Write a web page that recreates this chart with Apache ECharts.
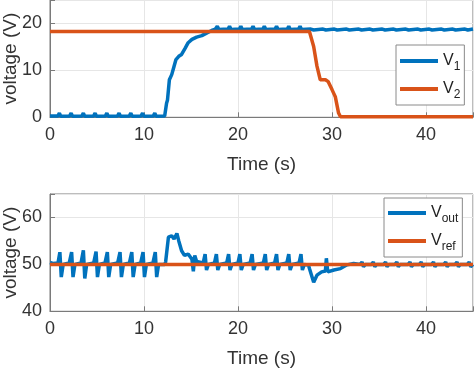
<!DOCTYPE html>
<html>
<head>
<meta charset="utf-8">
<script src="https://cdn.jsdelivr.net/npm/echarts@6/dist/echarts.min.js"></script>
<style>html,body{margin:0;padding:0;background:#fff}#c{width:474px;height:368px}</style>
</head>
<body>
<div id="c"></div>
<script>
// ---- data (time s, voltage V) ----
const v1Data = [[0,0.3],[0.85,0.3],[1.0,0.9],[1.15,0.2],[2.1,0.3],[2.25,0.9],[2.4,0.2],[3.4,0.3],[3.55,0.9],[3.7,0.2],[4.65,0.3],[4.8,0.9],[4.95,0.2],[5.9,0.3],[6.05,0.9],[6.2,0.2],[7.2,0.3],[7.35,0.9],[7.5,0.2],[8.45,0.3],[8.6,0.9],[8.75,0.2],[9.7,0.3],[9.85,0.9],[10.0,0.2],[11.0,0.3],[11.15,0.9],[11.3,0.2],[12.2,0.3],
[12.3,0.5],[12.4,3],[12.5,3.7],[12.7,8],[12.95,9.1],[13.2,10.9],[13.4,12.3],[13.7,13],[14.0,13.4],[14.4,14.8],[14.7,15.9],[15.1,16.6],[15.6,17.1],[16.15,17.4],[16.7,18],[17.2,18.5],[17.6,18.8],
[17.8,19.4],[17.95,18.7],[18.95,18.8],[19.1,19.4],[19.25,18.7],[20.15,18.8],[20.3,19.4],[20.45,18.7],[21.45,18.8],[21.6,19.4],[21.75,18.7],[22.65,18.8],[22.8,19.4],[22.95,18.7],[23.95,18.8],[24.1,19.4],[24.25,18.7],[25.25,18.8],[25.4,19.4],[25.55,18.7],[26.45,18.8],[26.6,19.4],[26.75,18.7],[27.75,18.8],[27.9,19.1],[28.05,18.6],[29.05,18.8],[29.2,19.1],[29.35,18.6],[30.25,18.8],[30.4,19.1],[30.55,18.6],[31.55,18.8],[31.7,19.1],[31.85,18.6],[32.85,18.8],[33.0,19.1],[33.15,18.6],[34.05,18.8],[34.2,19.1],[34.35,18.6],[35.35,18.8],[35.5,19.1],[35.65,18.6],[36.55,18.8],[36.7,19.1],[36.85,18.6],[37.85,18.8],[38.0,19.1],[38.15,18.6],[39.15,18.8],[39.3,19.1],[39.45,18.6],[40.35,18.8],[40.5,19.1],[40.65,18.6],[41.65,18.8],[41.8,19.1],[41.95,18.6],[42.85,18.8],[43.0,19.1],[43.15,18.6],[44.15,18.8],[44.3,19.1],[44.45,18.6],[45,18.8]];

const v2Data = [[0,18.3],[27.6,18.3],[27.7,18.2],[28.05,15.1],[28.4,10.9],[28.75,8.0],[29.3,8.0],[29.6,7.6],[30.0,5.9],[30.35,4.4],[30.7,0.9],[30.9,0.1],[45,0.1]];

const voutData = [[0,50.4],[0.3,50.2],[0.85,50.3],[1.05,52.6],[1.2,47.3],[1.4,50.0],[2.05,50.3],[2.3,52.6],[2.45,47.3],[2.65,50.0],[3.3,50.3],[3.55,53.0],[3.7,47.0],[3.9,50.0],[4.65,50.3],[4.9,52.7],[5.05,47.3],[5.25,50.0],[5.85,50.3],[6.1,52.6],[6.25,47.3],[6.45,50.0],[7.2,50.3],[7.45,52.6],[7.6,47.3],[7.8,50.0],[8.45,50.3],[8.7,52.6],[8.85,47.3],[9.05,50.0],[9.65,50.3],[9.9,52.6],[10.05,47.3],[10.25,50.0],[10.95,50.3],[11.2,52.6],[11.35,47.3],[11.55,50.0],[12.2,50.0],
[12.3,50.5],[12.6,55.8],[12.95,56.1],[13.2,55.4],[13.5,56.6],[13.7,55],[14.0,52.9],[14.3,51.9],[14.7,52.2],[15.1,51.1],[15.25,48.5],[15.4,51.9],[15.6,50.6],
[16.3,50.3],[16.5,52.2],[16.65,48.8],[16.85,50.0],[17.5,50.3],[17.7,52.2],[17.85,48.8],[18.05,50.0],[18.8,50.3],[19.0,52.2],[19.15,48.8],[19.35,50.0],[20.0,50.3],[20.2,52.2],[20.35,48.8],[20.55,50.0],[21.3,50.3],[21.5,52.2],[21.65,48.8],[21.85,50.0],[22.7,50.3],[22.9,52.2],[23.05,48.8],[23.25,50.0],[23.9,50.3],[24.1,52.2],[24.25,48.8],[24.45,50.0],[25.2,50.3],[25.4,52.2],[25.55,48.8],[25.75,50.0],[26.5,50.3],[26.7,52.2],[26.85,48.8],[27.05,50.0],
[27.5,49.8],[27.6,49.1],[28.05,46.2],[28.4,47.7],[28.9,48.4],[29.3,48.6],[29.4,51.3],[29.55,48.4],[30.2,48.8],[30.9,49.1],[31.6,49.9],[32.3,50.2],
[33.0,50.0],[33.2,50.5],[33.35,49.5],[33.55,50.0],[34.2,50.0],[34.4,50.5],[34.55,49.5],[34.75,50.0],[35.5,50.0],[35.7,50.5],[35.85,49.5],[36.05,50.0],[36.7,50.0],[36.9,50.5],[37.05,49.5],[37.25,50.0],[38.1,50.0],[38.3,50.5],[38.45,49.5],[38.65,50.0],[39.3,50.0],[39.5,50.5],[39.65,49.5],[39.85,50.0],[40.6,50.0],[40.8,50.5],[40.95,49.5],[41.15,50.0],[41.9,50.0],[42.1,50.5],[42.25,49.5],[42.45,50.0],[43.1,50.0],[43.3,50.5],[43.45,49.5],[43.65,50.0],[44.4,50.0],[44.6,50.5],[44.75,49.5],[45,50.0]];

const vrefData = [[0,50],[45,50]];

const blue = '#0072BD', orange = '#D95319';
const FONT = 'Liberation Sans';
const axisCol = '#7a7a7a', txtCol = '#333';

function xAxis(gi){
  return {type:'value', gridIndex:gi, min:0, max:45, interval:10,
    name:'Time (s)', nameLocation:'middle', nameGap:38,
    nameTextStyle:{fontFamily:FONT, fontSize:19, color:txtCol},
    axisLine:{lineStyle:{color:axisCol, width:1}},
    axisTick:{inside:true, length:5, lineStyle:{color:axisCol}},
    axisLabel:{fontFamily:FONT, fontSize:18, color:txtCol, margin:9,
      formatter:v=> v%10===0 ? String(v) : ''},
    splitLine:{show:true, lineStyle:{color:'#e6e6e6', width:1}}};
}
function yAxis(gi,mn,mx){
  return {type:'value', gridIndex:gi, min:mn, max:mx, interval:10,
    name:'voltage (V)', nameLocation:'middle', nameGap:30, nameMoveOverlap:false,
    nameTextStyle:{fontFamily:FONT, fontSize:19, color:txtCol},
    axisLine:{show:true, lineStyle:{color:axisCol, width:1}},
    axisTick:{show:true, inside:true, length:5, lineStyle:{color:axisCol}},
    axisLabel:{fontFamily:FONT, fontSize:18, color:txtCol, margin:8,
      formatter:v=> v%10===0 ? String(v) : ''},
    splitLine:{show:true, lineStyle:{color:'#e6e6e6', width:1}}};
}
const legendRich = {
  v:{fontFamily:FONT, fontSize:16, lineHeight:20, color:'#222'},
  s:{fontFamily:FONT, fontSize:12, lineHeight:12, padding:[12,0,0,0], color:'#222'}
};
function legend(idx,left,top,names,pad){
  return {show:true, orient:'vertical', left:left, top:top, data:names,
    icon:'rect', itemWidth:38, itemHeight:4, itemGap:4, padding:pad,
    backgroundColor:'#fff', borderColor:'#8a8a8a', borderWidth:1,
    formatter:n=> '{v|V}{s|'+n.slice(1)+'}',
    textStyle:{rich:legendRich}};
}
const chart = echarts.init(document.getElementById('c'), null, {renderer:'canvas'});
chart.setOption({
  animation:false,
  backgroundColor:'#fff',
  grid:[
    {left:50, top:0, width:423, height:117.3, outerBoundsMode:'none', containLabel:false, show:true, borderColor:axisCol, borderWidth:1, backgroundColor:'transparent'},
    {left:50, top:194, width:423, height:117.3, outerBoundsMode:'none', containLabel:false, show:true, borderColor:axisCol, borderWidth:1, backgroundColor:'transparent'}
  ],
  xAxis:[xAxis(0), xAxis(1)],
  yAxis:[yAxis(0,0,25), yAxis(1,40,65)],
  legend:[legend(0,396,45,['V1','V2'],[4,4,4,4]), legend(1,384,198,['Vout','Vref'],[3,4,4,4])],
  series:[
    {name:'V1', type:'line', xAxisIndex:0, yAxisIndex:0, data:v1Data, showSymbol:false, lineStyle:{color:blue, width:3.5}, itemStyle:{color:blue}},
    {name:'V2', type:'line', xAxisIndex:0, yAxisIndex:0, data:v2Data, showSymbol:false, lineStyle:{color:orange, width:3.5}, itemStyle:{color:orange}},
    {name:'Vout', type:'line', xAxisIndex:1, yAxisIndex:1, data:voutData, showSymbol:false, lineStyle:{color:blue, width:3.5}, itemStyle:{color:blue}},
    {name:'Vref', type:'line', xAxisIndex:1, yAxisIndex:1, data:vrefData, showSymbol:false, lineStyle:{color:orange, width:3.5}, itemStyle:{color:orange}}
  ]
});
</script>
</body>
</html>
